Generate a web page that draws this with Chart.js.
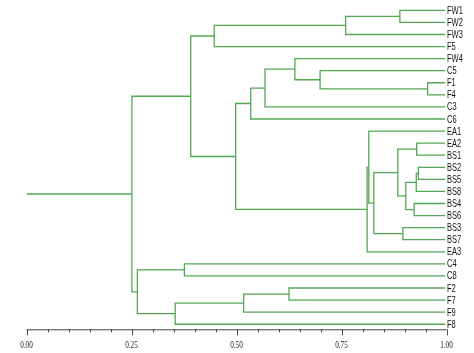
<!DOCTYPE html>
<html>
<head>
<meta charset="utf-8">
<script src="https://cdn.jsdelivr.net/npm/chart.js@4.4.0/dist/chart.umd.min.js"></script>
<style>
  html, body { margin: 0; padding: 0; background: #fff; }
  #wrap { width: 474px; height: 353px; }
</style>
</head>
<body>
<div id="wrap"><canvas id="dendro"></canvas></div>
<script>
// leaves, top to bottom
const leafLabels = ['FW1', 'FW2', 'FW3', 'F5', 'FW4', 'C5', 'F1', 'F4', 'C3', 'C6',
  'EA1', 'EA2', 'BS1', 'BS2', 'BS5', 'BS8', 'BS4', 'BS6', 'BS3', 'BS7', 'EA3',
  'C4', 'C8', 'F2', 'F7', 'F9', 'F8'];

// [child A, child B, similarity] - 'mN' means the N-th merge of this list
const merges = [
  ['FW1', 'FW2', 0.889],  // m0
  ['m0', 'FW3', 0.760],   // m1
  ['m1', 'F5', 0.447],    // m2
  ['F1', 'F4', 0.955],    // m3
  ['C5', 'm3', 0.699],    // m4
  ['FW4', 'm4', 0.639],   // m5
  ['m5', 'C3', 0.568],    // m6
  ['m6', 'C6', 0.534],    // m7
  ['EA2', 'BS1', 0.929],  // m8
  ['BS2', 'BS5', 0.933],  // m9
  ['m9', 'BS8', 0.928],   // m10
  ['BS4', 'BS6', 0.923],  // m11
  ['m10', 'm11', 0.903],  // m12
  ['m8', 'm12', 0.884],   // m13
  ['BS3', 'BS7', 0.896],  // m14
  ['m13', 'm14', 0.827],  // m15
  ['EA1', 'm15', 0.815],  // m16
  ['m16', 'EA3', 0.811],  // m17
  ['m7', 'm17', 0.498],   // m18
  ['m2', 'm18', 0.391],   // m19
  ['C4', 'C8', 0.376],    // m20
  ['F2', 'F7', 0.625],    // m21
  ['m21', 'F9', 0.517],   // m22
  ['m22', 'F8', 0.354],   // m23
  ['m20', 'm23', 0.264],  // m24
  ['m19', 'm24', 0.251]   // m25 (root)
];

const xTickValues = [0, 0.25, 0.5, 0.75, 1];
const xTickLabels = ['0.00', '0.25', '0.50', '0.75', '1.00'];
const xMinorStep = 0.05;

const lineColor = '#52a852';

// work out where each node sits (x = similarity, y = leaf row)
const nodes = {};
leafLabels.forEach((name, i) => { nodes[name] = { x: 0.997, y: i }; });
const datasets = [];
merges.forEach(([a, b, h], i) => {
    const na = nodes[a], nb = nodes[b];
    nodes['m' + i] = { x: h, y: (na.y + nb.y) / 2 };
    datasets.push({
        data: [{ x: na.x, y: na.y }, { x: h, y: na.y }, { x: h, y: nb.y }, { x: nb.x, y: nb.y }]
    });
});
// stem of the root
const root = nodes['m' + (merges.length - 1)];
datasets.push({ data: [{ x: 0, y: root.y }, { x: root.x, y: root.y }] });

datasets.forEach(ds => {
    ds.showLine = true;
    ds.borderColor = lineColor;
    ds.borderWidth = 1.3;
    ds.pointRadius = 0;
    ds.fill = false;
});

// narrow text: the original uses condensed faces
function narrowText(ctx, text, x, y, squeeze) {
    ctx.save();
    ctx.translate(x, y);
    ctx.scale(squeeze, 1);
    ctx.fillText(text, 0, 0);
    ctx.restore();
}

// bottom axis and leaf names drawn by hand
const axisPlugin = {
    id: 'simAxis',
    afterDraw(chart) {
        const ctx = chart.ctx;
        const xs = chart.scales.x;
        const ys = chart.scales.y;
        const yAxis = chart.chartArea.bottom;
        ctx.save();
        ctx.strokeStyle = '#444';
        ctx.lineWidth = 1;
        ctx.beginPath();
        ctx.moveTo(xs.getPixelForValue(0), yAxis + 0.5);
        ctx.lineTo(xs.getPixelForValue(1), yAxis + 0.5);
        for (let k = 0; k <= 20; k++) {
            const px = Math.round(xs.getPixelForValue(k * xMinorStep)) + 0.5;
            const major = k % 5 === 0;
            ctx.moveTo(px, yAxis);
            ctx.lineTo(px, yAxis + (major ? 6 : 3));
        }
        ctx.stroke();

        ctx.fillStyle = '#222';
        ctx.font = '10px "Liberation Serif", serif';
        ctx.textAlign = 'center';
        ctx.textBaseline = 'middle';
        xTickValues.forEach((v, i) => {
            narrowText(ctx, xTickLabels[i], xs.getPixelForValue(v), yAxis + 16, 0.72);
        });

        ctx.fillStyle = '#111';
        ctx.font = '11px "Liberation Sans", Arial, sans-serif';
        ctx.textAlign = 'left';
        leafLabels.forEach((name, i) => {
            narrowText(ctx, name, xs.getPixelForValue(1) + 0.5, ys.getPixelForValue(i) + 0.5, 0.68);
        });
        ctx.restore();
    }
};

new Chart(document.getElementById('dendro'), {
    type: 'scatter',
    data: { datasets: datasets },
    plugins: [axisPlugin],
    options: {
        responsive: true,
        maintainAspectRatio: false,
        animation: false,
        layout: { padding: { left: 26.5, top: 4.3, bottom: 23.7, right: 27.5 } },
        plugins: { legend: { display: false }, tooltip: { enabled: false } },
        scales: {
            x: { type: 'linear', min: 0, max: 1, display: false },
            y: { type: 'linear', reverse: true, min: -0.5, max: 26.42, display: false }
        }
    }
});
</script>
</body>
</html>
